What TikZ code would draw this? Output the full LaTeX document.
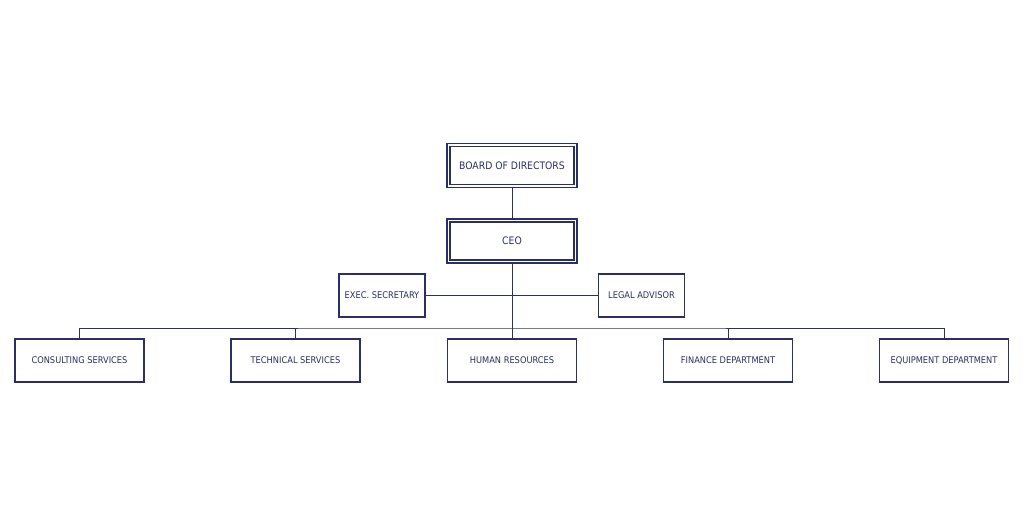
\documentclass[tikz,border=0pt]{standalone}
\usepackage{fontspec}
\setmainfont{DejaVu Sans Condensed}
\definecolor{navy}{HTML}{2B2F63}
\begin{document}
\begin{tikzpicture}[x=1pt,y=-1pt,
  box/.style={draw=navy,line width=1.3pt,rectangle,inner sep=0pt,text=navy,font=\fontsize{9.2}{10}\selectfont,minimum height=43pt},
  dbox/.style={box,double=white,double distance=1.6pt,line width=1.4pt,minimum width=127pt,minimum height=41pt,font=\fontsize{10.3}{11}\selectfont},
  wide/.style={minimum width=129pt},
  narrow/.style={minimum width=86pt},
  ln/.style={draw=navy,line width=0.8pt}]
\useasboundingbox[fill=white] (0,0) rectangle (1024,527);
\node[dbox] (bod) at (512,165.5) {BOARD OF DIRECTORS};
\node[dbox] (ceo) at (512,241) {CEO};
\node[box,narrow] (exec) at (382,295.5) {EXEC. SECRETARY};
\node[box,narrow] (legal) at (641.5,295.5) {LEGAL ADVISOR};
\node[box,wide] (cs) at (79.5,360.5) {CONSULTING SERVICES};
\node[box,wide] (ts) at (295.5,360.5) {TECHNICAL SERVICES};
\node[box,wide] (hr) at (512,360.5) {HUMAN RESOURCES};
\node[box,wide] (fd) at (728,360.5) {FINANCE DEPARTMENT};
\node[box,wide] (ed) at (944,360.5) {EQUIPMENT DEPARTMENT};
\coordinate (bus) at (512,328);
\draw[ln] (bod) -- (ceo);
\draw[ln] (ceo) -- (hr);
\draw[ln] (exec) -- (legal);
\draw[ln] (cs.north) |- (bus) -| (ed.north);
\draw[ln] (ts.north) -- (ts.north |- bus);
\draw[ln] (fd.north) -- (fd.north |- bus);
\end{tikzpicture}
\end{document}
